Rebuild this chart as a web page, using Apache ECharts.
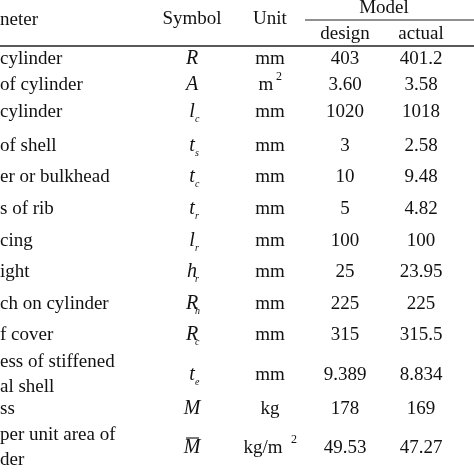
<!DOCTYPE html><html><head><meta charset="utf-8">
<script src="https://cdn.jsdelivr.net/npm/echarts@6/dist/echarts.min.js"></script>
<style>html,body{margin:0;background:#fff}#c{width:474px;height:474px}</style></head><body><div id="c"></div>
<script>
const paramLines=[["cylinder"],["of cylinder"],["cylinder"],["of shell"],["er or bulkhead"],["s of rib"],["cing"],["ight"],["ch on cylinder"],["f cover"],["ess of stiffened","al shell"],["ss"],["per unit area of","der"]];
const symbols=["R","A","l","t","t","t","l","h","R","R","t","M","M"];
const subs=["","","c","s","c","r","r","r","h","c","e","",""];
const units=["mm","m2","mm","mm","mm","mm","mm","mm","mm","mm","mm","kg","kg/m2"];
const design=["403","3.60","1020","3","10","5","100","25","225","315","9.389","178","49.53"];
const actual=["401.2","3.58","1018","2.58","9.48","4.82","100","23.95","225","315.5","8.834","169","47.27"];
const rowY=[59,85,112,146,177,209,241,272,304,335,375,409,448];
const F='Liberation Serif', C='#111';
const g=[];
function t(x,y,s,o){g.push({type:'text',x:x,y:y,style:Object.assign({text:s,fontFamily:F,fontSize:19,fill:C,align:'center',verticalAlign:'middle'},o||{})});}
function ln(x1,y1,x2,y2,w){g.push({type:'line',shape:{x1,y1,x2,y2},style:{stroke:'#222',lineWidth:w||1}});}
t(0,20,'neter',{align:'left'});t(192,19,'Symbol');t(270,19,'Unit');t(384,8,'Model');t(345,34,'design');t(421,34,'actual');
ln(305,20,474,20,1.2);ln(0,46,474,46,1.5);
rowY.forEach((y,i)=>{
  const L=paramLines[i];
  L.forEach((s,k)=>t(0,y+(L.length>1?(k-0.5)*25:0),s,{align:'left'}));
  t(192,y,symbols[i],{fontStyle:'italic',fontSize:20});
  if(subs[i])t(195,y+7,subs[i],{fontStyle:'italic',fontSize:10,align:'left'});
  if(i===12)ln(186,y-10,199,y-10,1.2);
  const u=units[i];
  if(u.endsWith('2')){const b=u.slice(0,-1);t(i===12?263:266,y,b);t(i===12?294:279,y-8,'2',{fontSize:12});}
  else t(270,y,u);
  t(345,y,design[i]);t(421,y,actual[i]);
});
const ch=echarts.init(document.getElementById('c'));
ch.setOption({animation:false,graphic:g});
</script></body></html>
